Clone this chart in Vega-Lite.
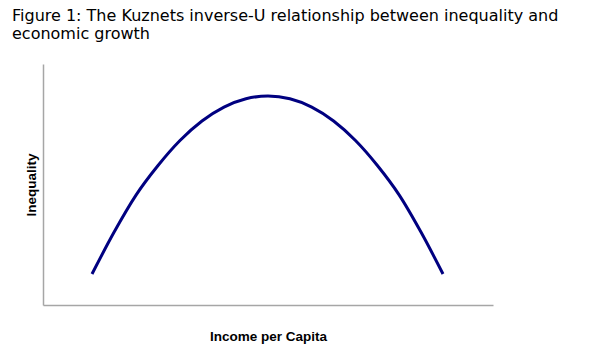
{
  "$schema": "https://vega.github.io/schema/vega-lite/v6.json",
  "width": 450,
  "height": 241,
  "autosize": {"type": "none"},
  "padding": {"left": 43, "top": 64, "right": 109, "bottom": 48},
  "background": "white",
  "title": {
    "text": ["Figure 1: The Kuznets inverse-U relationship between inequality and", "economic growth"],
    "anchor": "start",
    "frame": "group",
    "dx": -31,
    "offset": 22,
    "font": "DejaVu Sans",
    "fontSize": 16,
    "fontWeight": "normal",
    "color": "#000000",
    "lineHeight": 18
  },
  "config": {
    "view": {"stroke": null},
    "axis": {"grid": false, "ticks": false, "labels": false, "domainColor": "#a6a6a6", "domainWidth": 1.5,
      "titleFont": "Liberation Sans", "titleFontSize": 13.5, "titleFontWeight": "bold", "titleColor": "#000000"}
  },
  "data": {
    "values": [
      {"income": 10.89, "inequality": 12.86},
      {"income": 15.78, "inequality": 30.17},
      {"income": 20.67, "inequality": 45.60},
      {"income": 25.56, "inequality": 57.88},
      {"income": 30.44, "inequality": 68.26},
      {"income": 35.33, "inequality": 76.35},
      {"income": 40.22, "inequality": 82.12},
      {"income": 45.11, "inequality": 85.56},
      {"income": 50.00, "inequality": 86.72},
      {"income": 54.87, "inequality": 85.56},
      {"income": 59.72, "inequality": 82.12},
      {"income": 64.58, "inequality": 76.35},
      {"income": 69.44, "inequality": 68.26},
      {"income": 74.31, "inequality": 57.88},
      {"income": 79.17, "inequality": 45.60},
      {"income": 84.02, "inequality": 30.17},
      {"income": 88.89, "inequality": 12.86}
    ]
  },
  "mark": {"type": "line", "color": "#000080", "strokeWidth": 3, "interpolate": "monotone"},
  "encoding": {
    "x": {"field": "income", "type": "quantitative", "scale": {"domain": [0, 100], "nice": false, "zero": false},
      "axis": {"title": "Income per Capita", "titlePadding": 24}},
    "y": {"field": "inequality", "type": "quantitative", "scale": {"domain": [0, 100], "nice": false, "zero": false},
      "axis": {"title": "Inequality", "titlePadding": 5}}
  }
}
